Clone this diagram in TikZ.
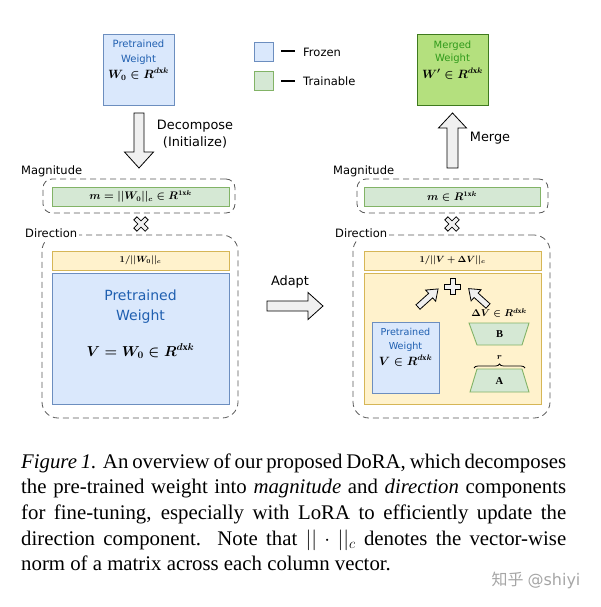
\documentclass[tikz,border=0pt]{standalone}
\usepackage{amsmath}
\usepackage{fontspec}
\setmainfont{Liberation Serif}
\newfontfamily\diagfont{DejaVu Sans}
\newfontfamily\cjk{Noto Sans CJK SC}
\usetikzlibrary{positioning,decorations.pathreplacing}

\definecolor{frozenfill}{HTML}{DAE8FC}
\definecolor{frozenline}{HTML}{6C8EBF}
\definecolor{trainfill}{HTML}{D5E8D4}
\definecolor{trainline}{HTML}{82B366}
\definecolor{normfill}{HTML}{FFF2CC}
\definecolor{normline}{HTML}{D6B656}
\definecolor{mergedfill}{HTML}{B4E07E}
\definecolor{mergedline}{HTML}{3F7A1E}
\definecolor{mergedtext}{HTML}{2F9A1A}
\definecolor{weighttext}{HTML}{1F5FB0}

% start, angle, length, head length, half shaft, half head
\newcommand{\fatarrow}[6]{\draw[hollow,shift={#1},rotate=#2]
  (0,-#5) -- (#3-#4,-#5) -- (#3-#4,-#6) -- (#3,0) -- (#3-#4,#6) -- (#3-#4,#5) -- (0,#5) -- cycle;}
% centre, angle, half arm, half thickness
\newcommand{\hollowcross}[4]{\draw[hollow,shift={#1},rotate=#2]
  (-#4,-#3) -- (#4,-#3) -- (#4,-#4) -- (#3,-#4) -- (#3,#4) -- (#4,#4) -- (#4,#3)
  -- (-#4,#3) -- (-#4,#4) -- (-#3,#4) -- (-#3,-#4) -- (-#4,-#4) -- cycle;}

\begin{document}
\begin{tikzpicture}[x=1pt,y=-1pt,
    lbl/.style={font=\diagfont\fontsize{11.5}{13}\selectfont,inner sep=0pt},
    big/.style={font=\diagfont\fontsize{12.9}{17}\selectfont,inner sep=0pt,align=center},
    frozen/.style={draw=frozenline,fill=frozenfill,line width=0.9pt,inner sep=0pt},
    train/.style={draw=trainline,fill=trainfill,line width=0.9pt,inner sep=0pt},
    norm/.style={draw=normline,fill=normfill,line width=0.9pt,inner sep=0pt},
    group/.style={draw=black!65,dash pattern=on 6pt off 4pt,line width=0.8pt,
      rounded corners=#1,inner sep=0pt},
    hollow/.style={draw=black,fill=black!6,line width=0.8pt,line join=miter},
    formula/.style={font=\fontsize{10.5}{12}\selectfont\boldmath},
    wtext/.style={inner sep=0pt,align=center,text=weighttext}]

  \useasboundingbox (0,0) rectangle (600,607);

  % legend
  \node[frozen,minimum size=19] (frz) at (263.5,51.5) {};
  \node[train,minimum size=19] (trn) at (263.5,81) {};
  \node[lbl,anchor=west] (frzl) at (303,52) {Frozen};
  \node[lbl,anchor=west] (trnl) at (303,81) {Trainable};
  \draw[line width=1.2pt] (281,51) -- (295,51);
  \draw[line width=1.2pt] (281,81) -- (295,81);

  % left: decomposition
  \node[frozen,minimum size=71] (w0) at (138.5,69.5) {};
  \node[wtext,font=\diagfont\fontsize{10}{15}\selectfont,below=6pt of w0.north] (w0l)
    {Pretrained\\Weight\\[1pt]\textcolor{black}{\fontsize{11.5}{13}\selectfont\boldmath$W_0\in R^{d\mathrm{x}k}$}};
  \fatarrow{(139,113)}{-90}{55}{16}{5}{14.5}
  \node[big] (dec) at (195,134.5) {Decompose\\(Initialize)};

  \node[group=9pt,minimum width=192,minimum height=34] (magL) at (139,196) {};
  \node[lbl,anchor=west] (magLl) at (21,171.5) {Magnitude};
  \node[train,formula,minimum width=177,minimum height=19] (mL) at (140.5,196.5)
    {$m=||W_0||_c\in R^{1\mathrm{x}k}$};
  \hollowcross{(141,224)}{45}{8}{2.2}

  \node[group=16pt,minimum width=196,minimum height=183] (dirL) at (140,326.5) {};
  \node[lbl,anchor=west,fill=white,inner xsep=2pt,inner ysep=3pt] (dirLl) at (23,233) {Direction};
  \node[norm,minimum width=177,minimum height=19,font=\fontsize{9}{10}\selectfont\boldmath]
    (nL) at (140.5,260.5) {$1/||W_0||_c$};
  \node[frozen,minimum width=177,minimum height=131] (vL) at (140.5,338.5) {};
  \node[wtext,font=\diagfont\fontsize{14}{20}\selectfont,below=17pt of vL.north] (vLl)
    {Pretrained\\Weight};
  \node[font=\fontsize{14}{16}\selectfont\boldmath,below=17pt of vLl] (vLf)
    {$V=W_0\in R^{d\mathrm{x}k}$};

  % adapt
  \fatarrow{(267,306)}{0}{56}{15}{5}{13.5}
  \node[big] (adapt) at (290,282) {Adapt};

  % right: merged
  \node[draw=mergedline,fill=mergedfill,line width=0.9pt,minimum size=71] (wm) at (452.5,69.5) {};
  \node[wtext,text=mergedtext,font=\diagfont\fontsize{10}{13.5}\selectfont,below=7pt of wm.north] (wml)
    {Merged\\Weight\\[3pt]\textcolor{black}{\fontsize{11.5}{13}\selectfont\boldmath$W'\in R^{d\mathrm{x}k}$}};
  \fatarrow{(452.5,168)}{90}{55}{15}{5.5}{14}
  \node[big] (merge) at (490,138) {Merge};

  \node[group=9pt,minimum width=191,minimum height=34] (magR) at (452.5,196) {};
  \node[lbl,anchor=west] (magRl) at (333,171.5) {Magnitude};
  \node[train,formula,minimum width=176,minimum height=19] (mR) at (452,196.5)
    {$m\in R^{1\mathrm{x}k}$};
  \hollowcross{(452,224)}{45}{8}{2.2}

  \node[group=16pt,minimum width=197,minimum height=183] (dirR) at (451.5,326.5) {};
  \node[lbl,anchor=west,fill=white,inner xsep=2pt,inner ysep=3pt] (dirRl) at (333,233) {Direction};
  \node[norm,minimum width=177,minimum height=19,font=\fontsize{9}{10}\selectfont\boldmath]
    (nR) at (452.5,260.5) {$1/||V+\Delta V||_c$};
  \node[norm,minimum width=177,minimum height=131] (vR) at (452.5,338.5) {};

  \hollowcross{(452.5,286.5)}{0}{8}{2.4}
  \fatarrow{(418,307)}{42}{27}{10}{3}{7.5}
  \fatarrow{(488,306)}{138}{26}{10}{3}{7.5}

  \node[frozen,minimum width=67,minimum height=71] (vR0) at (405.5,357.5) {};
  \node[wtext,font=\diagfont\fontsize{9.6}{14}\selectfont,below=6pt of vR0.north] (vR0l)
    {Pretrained\\Weight\\[2pt]\textcolor{black}{\fontsize{11.5}{12}\selectfont\boldmath$V\in R^{d\mathrm{x}k}$}};

  \node[font=\fontsize{10}{12}\selectfont\boldmath] (dv) at (499,313) {$\Delta V\in R^{d\mathrm{x}k}$};
  \draw[train] (469,323) -- (529,323) -- (522,345) -- (477,345) -- cycle;
  \node[font=\fontsize{10.5}{12}\selectfont\bfseries] (B) at (499.5,334) {B};
  \draw[line width=0.8pt,decorate,decoration={brace,amplitude=4pt}] (474,368) -- (525,368);
  \node[font=\fontsize{9}{10}\selectfont\boldmath] (r) at (499.5,357) {$r$};
  \draw[train] (477,369) -- (522,369) -- (529,392) -- (470,392) -- cycle;
  \node[font=\fontsize{10.5}{12}\selectfont\bfseries] (A) at (499.5,381) {A};

  % caption
  \node[anchor=base west,text width=545,align=justify,inner sep=0pt,
    font=\fontsize{20.8}{25.7}\selectfont] (cap) at (21,468)
    {\textit{Figure 1.} An overview of our proposed DoRA, which decomposes\linebreak
     the pre-trained weight into \textit{magnitude} and \textit{direction} components\linebreak
     for fine-tuning, especially with LoRA to efficiently update the\linebreak
     direction component. Note that $||\cdot||_c$ denotes the vector-wise\linebreak
     norm of a matrix across each column vector.};
  \node[text=black!35,font=\fontsize{16}{18}\selectfont] (mark) at (536,580)
    {{\cjk 知乎} {\diagfont @shiyi}};
\end{tikzpicture}
\end{document}
